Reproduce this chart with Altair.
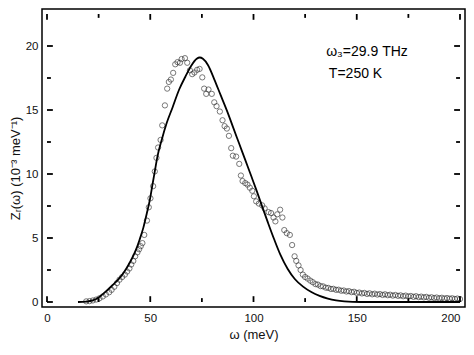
import altair as alt
import pandas as pd

# ---------------- data ----------------
omega_obs = [
    19.0, 20.6, 22.2, 23.8, 25.4, 27.0, 28.5, 30.1, 31.3, 32.6,
    33.9, 35.1, 36.4, 37.7, 38.8, 39.9, 40.8, 41.8, 42.7, 43.8,
    44.6, 45.4, 46.2, 47.1, 48.4, 49.3, 50.1, 51.4, 52.2, 53.0,
    53.8, 55.0, 55.8, 57.1, 58.2, 59.0, 60.0, 61.1, 62.1, 63.2,
    64.4, 65.2, 66.8, 67.9, 69.2, 70.3, 71.4, 72.7, 73.9, 75.2,
    76.1, 77.1, 78.2, 79.8, 81.0, 82.1, 83.7, 85.0, 86.0, 87.1,
    88.1, 89.2, 90.0, 91.6, 93.1, 93.9, 94.7, 96.0, 97.1, 98.2,
    99.4, 100.2, 101.3, 102.6, 104.2, 105.4, 107.3, 108.5, 109.7, 110.6,
    111.5, 112.9, 114.0, 114.9, 116.1, 117.6, 118.7, 119.9, 120.7, 121.8,
    122.8, 123.9, 125.0, 126.2, 127.5,
    128.7, 130.0, 131.2, 132.5, 133.7, 135.0, 136.2, 137.5, 138.7, 140.0,
    141.2, 142.5, 143.7, 145.0, 146.2, 147.5, 148.7, 150.0, 151.2, 152.5,
    153.7, 155.0, 156.2, 157.5, 158.7, 160.0, 161.2, 162.5, 163.7, 165.0,
    166.2, 167.5, 168.7, 170.0, 171.2, 172.5, 173.7, 175.0, 176.2, 177.5,
    178.7, 180.0, 181.2, 182.5, 183.7, 185.0, 186.2, 187.5, 188.7, 190.0,
    191.2, 192.5, 193.7, 195.0, 196.2, 197.5, 198.7, 200.0,
]
z_obs = [
    0.05, 0.07, 0.12, 0.19, 0.29, 0.43, 0.59, 0.76, 0.95, 1.19,
    1.48, 1.74, 1.95, 2.14, 2.38, 2.62, 2.93, 3.21, 3.57, 3.88,
    4.12, 4.36, 4.60, 5.24, 6.36, 7.40, 8.10, 9.05, 10.20, 11.26,
    12.07, 12.66, 13.80, 15.36, 16.67, 17.19, 17.38, 17.90, 18.57, 18.74,
    18.69, 18.98, 19.05, 18.69, 18.10, 17.80, 17.93, 18.14, 18.21, 17.55,
    16.67, 16.26, 16.60, 16.26, 15.60, 15.30, 14.88, 14.20, 13.74, 13.55,
    12.98, 12.02, 11.43, 11.36, 10.79, 9.88, 9.45, 9.29, 9.17, 8.93,
    8.69, 8.26, 7.86, 7.69, 7.55, 7.31, 7.02, 6.95, 6.60, 6.30,
    6.85, 7.21, 6.60, 5.62, 5.38, 5.24, 4.45, 3.57, 3.21, 2.86,
    2.50, 2.14, 1.95, 1.83, 1.67,
    1.55, 1.40, 1.36, 1.24, 1.22, 1.12, 1.10, 1.02, 1.03, 0.95,
    0.96, 0.88, 0.90, 0.82, 0.85, 0.77, 0.80, 0.71, 0.74, 0.67,
    0.71, 0.63, 0.68, 0.60, 0.65, 0.58, 0.62, 0.55, 0.60, 0.53,
    0.57, 0.50, 0.55, 0.48, 0.52, 0.45, 0.50, 0.43, 0.47, 0.40,
    0.45, 0.38, 0.42, 0.36, 0.40, 0.33, 0.37, 0.31, 0.35, 0.29,
    0.33, 0.27, 0.31, 0.26, 0.29, 0.24, 0.27, 0.23,
]

omega_fit = [
    15, 19, 22.2, 25, 28, 31.7, 35, 38, 40.5, 42.7,
    44.8, 46.7, 48.3, 49.8, 51, 52.2, 53.4, 55.6, 58, 60.8,
    64, 67, 70, 72.5, 74, 75.5, 78, 81, 84, 87.5,
    90, 93, 96, 99, 101.5, 104, 107, 110, 113, 116.5,
    120, 124, 128, 132, 136, 140, 144, 148, 152, 170, 200,
]
z_fit = [
    0.0, 0.03, 0.12, 0.35, 0.75, 1.31, 1.85, 2.5, 3.2, 3.93,
    4.85, 5.83, 6.9, 7.98, 9.1, 10.2, 11.3, 12.7, 14.0, 15.2,
    16.6, 17.6, 18.5, 19.0, 19.1, 19.0, 18.5, 17.4, 16.2, 14.8,
    13.7, 12.4, 11.1, 9.8, 8.7, 7.55, 6.2, 4.9, 3.7, 2.6,
    1.8, 1.2, 0.78, 0.48, 0.27, 0.13, 0.05, 0.01, 0.0, 0.0, 0.0,
]

x_label_values = [0, 50, 100, 150, 200]
x_minor_values = [25, 75, 125, 175]
y_label_values = [0, 5, 10, 15, 20]
y_minor_values = [2.5, 7.5, 12.5, 17.5]

annotation_1 = ["ω₃=29.9 THz"]
annotation_2 = ["T=250 K"]

# ---------------- layout ----------------
W, H = 423, 298
FONT = "Liberation Sans"
X_MIN, X_MAX = 0, 200
Y_MIN, Y_MAX = 0, 22.5
PX_X = (X_MAX - X_MIN) / W   # data units per pixel
PX_Y = (Y_MAX - Y_MIN) / H
MAJOR, MINOR = 6, 4           # inward tick lengths in pixels

obs = pd.DataFrame({"w": omega_obs, "z": z_obs})
fit = pd.DataFrame({"w": omega_fit, "z": z_fit})

# vertical tick segments (x ticks) and horizontal ones (y ticks)
xt_rows = []
for vals, L in ((x_label_values, MAJOR), (x_minor_values, MINOR)):
    for v in vals:
        xt_rows.append({"w": v, "z": Y_MIN, "z2": Y_MIN + L * PX_Y})
        xt_rows.append({"w": v, "z": Y_MAX - L * PX_Y, "z2": Y_MAX})
yt_rows = []
for vals, L in ((y_label_values, MAJOR), (y_minor_values, MINOR)):
    for v in vals:
        yt_rows.append({"z": v, "w": X_MIN, "w2": X_MIN + L * PX_X})
        yt_rows.append({"z": v, "w": X_MAX - L * PX_X, "w2": X_MAX})
xt_df = pd.DataFrame(xt_rows)
yt_df = pd.DataFrame(yt_rows)

xs = alt.Scale(domain=[X_MIN, X_MAX], nice=False, zero=False)
ys = alt.Scale(domain=[Y_MIN, Y_MAX], nice=False, zero=False)

ax_x_main = alt.Axis(
    values=x_label_values, ticks=False, tickSize=0, labelPadding=5,
    labelFlush=False, domain=False, grid=False,
    labelAlign={"condition": {"test": "datum.value >= 200", "value": "right"}, "value": "center"},
    title="ω (meV)", titleY=31, titleBaseline="alphabetic",
)
ax_y_main = alt.Axis(
    values=y_label_values, ticks=False, tickSize=0, labelPadding=4,
    labelFlush=False, domain=False, grid=False,
    title="Zᵣ(ω) (10⁻³ meV⁻¹)", titleX=-20, titleY=159,
)

points = alt.Chart(obs).mark_point(
    shape="circle", filled=False, size=28, strokeWidth=0.9, color="#2a2a2a"
).encode(
    x=alt.X("w:Q", scale=xs, axis=ax_x_main),
    y=alt.Y("z:Q", scale=ys, axis=ax_y_main),
)

line = alt.Chart(fit).mark_line(
    color="black", strokeWidth=1.8, interpolate="monotone"
).encode(
    x=alt.X("w:Q", scale=xs),
    y=alt.Y("z:Q", scale=ys),
)

# ticks drawn as thin bars (rect marks) so they always render
xticks = alt.Chart(xt_df).mark_bar(color="black", width=1.8).encode(
    x=alt.X("w:Q", scale=xs),
    y=alt.Y("z:Q", scale=ys),
    y2="z2:Q",
)
yticks = alt.Chart(yt_df).mark_bar(color="black", height=1.8).encode(
    y=alt.Y("z:Q", scale=ys),
    x=alt.X("w:Q", scale=xs),
    x2="w2:Q",
)

text1 = alt.Chart(pd.DataFrame({"label": annotation_1})).mark_text(
    align="left", baseline="alphabetic", font=FONT, fontSize=14, color="black"
).encode(
    text="label:N",
    x=alt.X(datum=135.2, scale=xs),
    y=alt.Y(datum=19.2, scale=ys),
)

text2 = alt.Chart(pd.DataFrame({"label": annotation_2})).mark_text(
    align="left", baseline="alphabetic", font=FONT, fontSize=14, color="black"
).encode(
    text="label:N",
    x=alt.X(datum=136.5, scale=xs),
    y=alt.Y(datum=17.5, scale=ys),
)

chart = alt.layer(points, line, xticks, yticks, text1, text2).properties(
    width=W, height=H,
    padding={"left": 34, "top": 1, "right": 1, "bottom": 35},
    autosize=alt.AutoSizeParams(type="none"),
).configure_view(
    stroke="black", strokeWidth=1.5
).configure_axis(
    labelFont=FONT, labelFontSize=11.5, labelColor="#111",
    titleFont=FONT, titleFontSize=13, titleFontWeight="normal", titleColor="#111",
)

chart.save("out.html", embed_options={"renderer": "svg", "actions": False})
